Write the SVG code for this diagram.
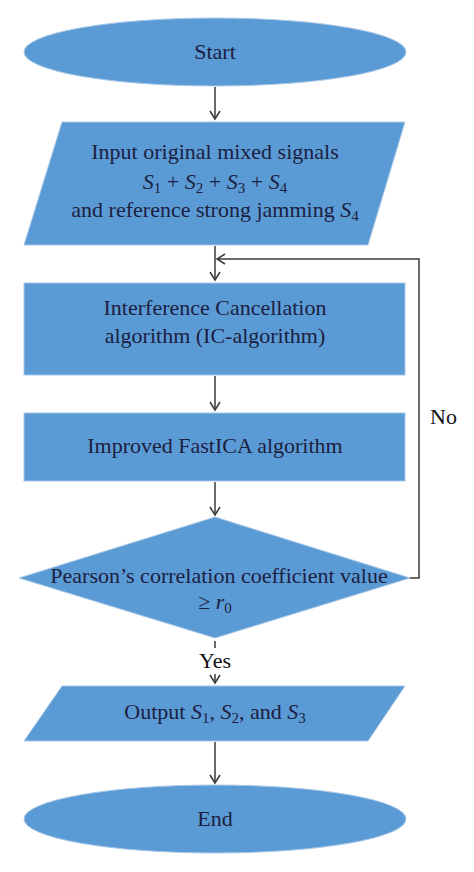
<svg xmlns="http://www.w3.org/2000/svg" width="474" height="872" viewBox="0 0 474 872">
<defs>
<style>
.shape{fill:#5b9bd5;stroke:#a9c8e8;stroke-width:1}
.t{font-family:"Liberation Serif","Times New Roman",serif;font-size:22px;fill:#1c2040;text-anchor:middle}
.lbl{font-family:"Liberation Serif","Times New Roman",serif;font-size:22px;fill:#111}
.sub{font-size:15px}
.i{font-style:italic}
.c{fill:none;stroke:#3a3a3a;stroke-width:1.5}
</style>
<marker id="arr" markerWidth="12" markerHeight="12" refX="10" refY="6" orient="auto" markerUnits="userSpaceOnUse">
<path d="M2,1 L10,6 L2,11" fill="none" stroke="#3a3a3a" stroke-width="1.5"/>
</marker>
</defs>
<rect width="474" height="872" fill="#ffffff"/>
<g id="connectors">
<line class="c" x1="215" y1="87" x2="215" y2="119" marker-end="url(#arr)"/>
<line class="c" x1="215" y1="246" x2="215" y2="280" marker-end="url(#arr)"/>
<polyline class="c" points="410,578 419,578 419,259 217,259" marker-end="url(#arr)"/>
<line class="c" x1="215" y1="376" x2="215" y2="410" marker-end="url(#arr)"/>
<line class="c" x1="215" y1="482" x2="215" y2="515" marker-end="url(#arr)"/>
<line class="c" x1="215" y1="641" x2="215" y2="648"/>
<line class="c" x1="215" y1="674" x2="215" y2="683" marker-end="url(#arr)"/>
<line class="c" x1="215" y1="742" x2="215" y2="783" marker-end="url(#arr)"/>
<text class="lbl" x="430" y="424">No</text>
<text class="lbl" x="215" y="668" text-anchor="middle">Yes</text>
</g>
<g id="start">
<ellipse class="shape" cx="215" cy="52" rx="191" ry="34"/>
<text class="t" x="215" y="59">Start</text>
</g>
<g id="input">
<polygon class="shape" points="62,122 405,122 368,245 24,245"/>
<text class="t" x="215" y="159">Input original mixed signals</text>
<text class="t" x="215" y="189"><tspan class="i">S</tspan><tspan class="sub" dy="4">1</tspan><tspan dy="-4"> + </tspan><tspan class="i">S</tspan><tspan class="sub" dy="4">2</tspan><tspan dy="-4"> + </tspan><tspan class="i">S</tspan><tspan class="sub" dy="4">3</tspan><tspan dy="-4"> + </tspan><tspan class="i">S</tspan><tspan class="sub" dy="4">4</tspan></text>
<text class="t" x="215" y="217">and reference strong jamming <tspan class="i">S</tspan><tspan class="sub" dy="4">4</tspan></text>
</g>
<g id="ic">
<rect class="shape" x="24" y="283" width="381" height="92"/>
<text class="t" x="215" y="315">Interference Cancellation</text>
<text class="t" x="215" y="343">algorithm (IC-algorithm)</text>
</g>
<g id="fastica">
<rect class="shape" x="24" y="413" width="381" height="68"/>
<text class="t" x="215" y="453">Improved FastICA algorithm</text>
</g>
<g id="decision">
<polygon class="shape" points="215,517 410,578 215,638 19,578"/>
<text class="t" x="219" y="583">Pearson’s correlation coefficient value</text>
<text class="t" x="215" y="609">≥ <tspan class="i">r</tspan><tspan class="sub" dy="4">0</tspan></text>
</g>
<g id="output">
<polygon class="shape" points="62,686 405,686 368,741 24,741"/>
<text class="t" x="215" y="719">Output <tspan class="i">S</tspan><tspan class="sub" dy="4">1</tspan><tspan dy="-4">, </tspan><tspan class="i">S</tspan><tspan class="sub" dy="4">2</tspan><tspan dy="-4">, and </tspan><tspan class="i">S</tspan><tspan class="sub" dy="4">3</tspan></text>
</g>
<g id="end">
<ellipse class="shape" cx="215" cy="819" rx="191" ry="34"/>
<text class="t" x="215" y="826">End</text>
</g>
</svg>
